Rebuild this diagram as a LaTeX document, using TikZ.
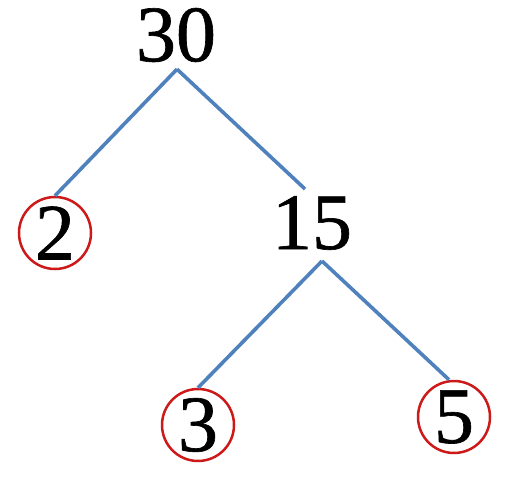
\documentclass[tikz,border=0pt]{standalone}
\usepackage{fontspec}
\setmainfont{Liberation Serif}
\newfontfamily\ftfont[FakeBold=0.8]{Liberation Serif}
\usepackage{tikz}
\usetikzlibrary{positioning}
\definecolor{ftblue}{RGB}{79,129,189}
\definecolor{ftred}{RGB}{205,25,25}
\tikzstyle{factor} = [inner sep=0pt, font=\ftfont\fontsize{80}{80}\selectfont]
\tikzstyle{prime} = [factor, circle, draw=ftred, line width=2.5pt, minimum size=72pt]
\tikzstyle{branch} = [line width=3.6pt, color=ftblue]

\begin{document}
\begin{tikzpicture}[x=1pt, y=-1pt]
\useasboundingbox (0,0) rectangle (517,495);
% Factor tree
\node[factor] (thirty) at (176,35) {30};
\node[prime] (two) at (55,233) {2};
\node[factor] (fifteen) at (312,223) {15};
\node[prime] (three) at (198,425) {3};
\node[prime] (five) at (454,417) {5};

\draw[branch] ([yshift=-7pt,xshift=1pt]thirty.south) -- (two.north);
\draw[branch] ([yshift=-7pt,xshift=1pt]thirty.south) -- ([yshift=7pt,xshift=-7pt]fifteen.north);
\draw[branch] ([yshift=-11pt,xshift=10pt]fifteen.south) -- (three.north);
\draw[branch] ([yshift=-11pt,xshift=10pt]fifteen.south) -- ([xshift=-5pt]five.north);
\end{tikzpicture}
\end{document}
